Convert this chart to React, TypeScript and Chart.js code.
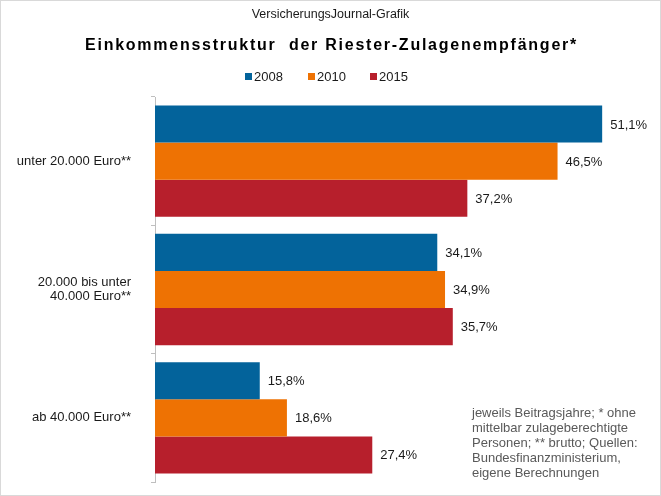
import React, { useEffect, useRef } from "react";
import { Chart, registerables } from "chart.js";

Chart.register(...registerables);

const categories: (string | string[])[] = [
  "unter 20.000 Euro**",
  ["20.000 bis unter", "40.000 Euro**"],
  "ab 40.000 Euro**",
];
const seriesNames = ["2008", "2010", "2015"];
const values2008 = [51.1, 34.1, 15.8];
const values2010 = [46.5, 34.9, 18.6];
const values2015 = [37.2, 35.7, 27.4];
const seriesColors = ["#03639B", "#EE7203", "#B71F2C"];
const sourceTitle = "VersicherungsJournal-Grafik";
const mainTitle = "Einkommensstruktur  der Riester-Zulagenempfänger*";
const footnoteLines = [
  "jeweils Beitragsjahre; * ohne",
  "mittelbar zulageberechtigte",
  "Personen; ** brutto; Quellen:",
  "Bundesfinanzministerium,",
  "eigene Berechnungen",
];

const FONT = '"Liberation Sans", Arial, sans-serif';

const fmt = (v: number) => v.toFixed(1).replace(".", ",") + "%";

export default function App() {
  const ref = useRef<HTMLCanvasElement | null>(null);

  useEffect(() => {
    if (!ref.current) return;
    const textPlugin = {
      id: "texts",
      beforeDraw(chart: any) {
        const ctx = chart.ctx;
        ctx.save();
        ctx.fillStyle = "#ffffff";
        ctx.fillRect(0, 0, chart.width, chart.height);
        ctx.restore();
      },
      afterDatasetsDraw(chart: any) {
        const ctx = chart.ctx;
        ctx.save();
        ctx.font = `13px ${FONT}`;
        ctx.fillStyle = "#1a1a1a";
        ctx.textAlign = "left";
        ctx.textBaseline = "middle";
        chart.data.datasets.forEach((ds: any, i: number) => {
          const meta = chart.getDatasetMeta(i);
          meta.data.forEach((bar: any, j: number) => {
            ctx.fillText(fmt(ds.data[j]), bar.x + 8, bar.y + 1);
          });
        });
        ctx.restore();
      },
      afterDraw(chart: any) {
        const ctx = chart.ctx;
        const cx = chart.width / 2;
        ctx.save();
        // border
        ctx.strokeStyle = "#d9d9d9";
        ctx.lineWidth = 1;
        ctx.strokeRect(0.5, 0.5, chart.width - 1, chart.height - 1);
        // titles
        ctx.textAlign = "center";
        ctx.textBaseline = "middle";
        ctx.fillStyle = "#1a1a1a";
        ctx.font = `12.5px ${FONT}`;
        ctx.fillText(sourceTitle, cx, 15);
        ctx.fillStyle = "#000000";
        ctx.font = `bold 16px ${FONT}`;
        (ctx as any).letterSpacing = "1.75px";
        ctx.fillText(mainTitle, cx + 1, 46);
        (ctx as any).letterSpacing = "0px";
        // legend
        ctx.font = `13px ${FONT}`;
        ctx.textAlign = "left";
        chart.data.datasets.forEach((ds: any, i: number) => {
          const x = 245 + i * 62.5;
          ctx.fillStyle = ds.backgroundColor;
          ctx.fillRect(Math.round(x), 73, 7, 7);
          ctx.fillStyle = "#1a1a1a";
          ctx.fillText(ds.label, Math.round(x) + 9, 77);
        });
        // footnote
        ctx.fillStyle = "#595959";
        footnoteLines.forEach((line, i) => {
          ctx.fillText(line, 472, 413 + i * 15);
        });
        ctx.restore();
      },
    };

    const chart = new Chart(ref.current, {
      type: "bar",
      data: {
        labels: categories,
        datasets: [values2008, values2010, values2015].map((d, i) => ({
          label: seriesNames[i],
          data: d,
          backgroundColor: seriesColors[i],
          borderWidth: 0,
          categoryPercentage: 0.867,
          barPercentage: 1.0,
        })),
      },
      options: {
        indexAxis: "y",
        responsive: false,
        maintainAspectRatio: false,
        devicePixelRatio: 1,
        animation: false,
        layout: { padding: { top: 97, bottom: 14, right: 21, left: 0 } },
        plugins: {
          legend: { display: false },
          title: { display: false },
          tooltip: { enabled: false },
        },
        scales: {
          x: {
            display: false,
            min: 5,
            max: 55,
          },
          y: {
            afterFit(scale: any) {
              scale.width = 155;
              scale.paddingTop = 0;
              scale.paddingBottom = 0;
            },
            border: { display: true, color: "#bfbfbf", width: 1 },
            grid: {
              display: true,
              drawOnChartArea: false,
              drawTicks: true,
              tickLength: 4,
              color: "#bfbfbf",
              offset: true,
            },
            ticks: {
              padding: 20,
              color: "#1a1a1a",
              font: { family: FONT, size: 13, lineHeight: 1.05 },
            },
          },
        },
      },
      plugins: [textPlugin],
    } as any);
    return () => chart.destroy();
  }, []);

  return (
    <div style={{ position: "absolute", left: 0, top: 0, width: 661, height: 496 }}>
      <canvas ref={ref} width={661} height={496} style={{ display: "block" }} />
    </div>
  );
}
